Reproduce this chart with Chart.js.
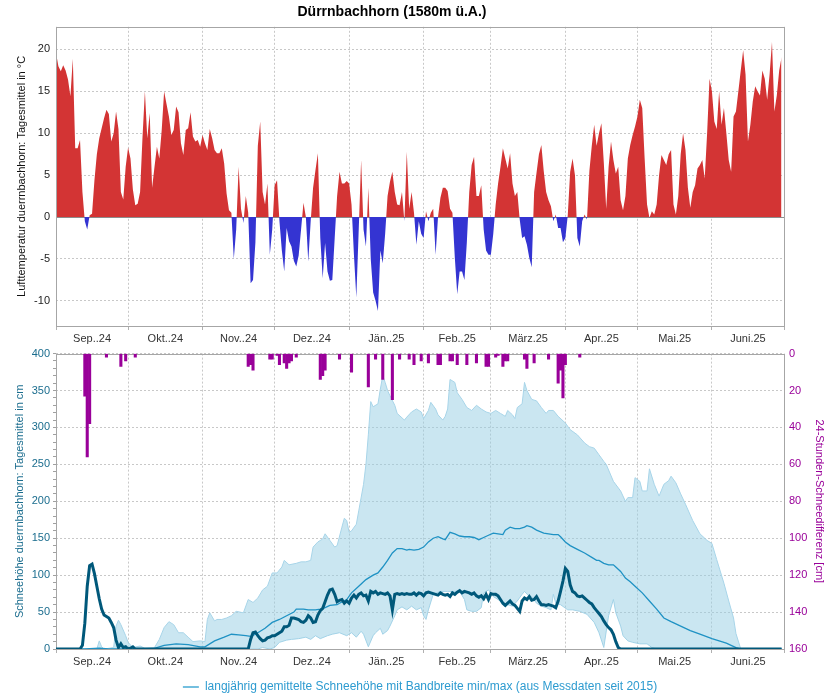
<!DOCTYPE html>
<html lang="de">
<head>
    <meta charset="UTF-8">
    <script src="https://cdn.jsdelivr.net/npm/chart.js@4.4.0/dist/chart.umd.min.js"></script>
    <title>Dürrnbachhorn</title>
    <style>
        body { margin: 0; background: #fff; }
        #wrap { position: relative; width: 840px; height: 700px; }
        canvas { display: block; position: absolute; left: 0; }
        #tempChart { top: 0; }
        #snowChart { top: 342px; }
    </style>
</head>
<body>
    <div id="wrap">
        <canvas id="tempChart" width="840" height="350"></canvas>
        <canvas id="snowChart" width="840" height="361"></canvas>
    </div>

    <script>
        // day 0 = 1. Sep 2024, month edges in days
        var monthEdges = [0, 30, 61, 91, 122, 153, 181, 212, 242, 273, 303];
        var monthLabels = ['Sep..24', 'Okt..24', 'Nov..24', 'Dez..24', 'Jän..25', 'Feb..25', 'März.25', 'Apr..25', 'Mai.25', 'Juni.25'];

        // Lufttemperatur Tagesmittel (°C), one value per day
        var temps = [
            19.6, 18.0, 17.4, 18.1, 17.5, 16.4, 14.4, 18.9, 8.2, 8.2, 9.2, 3.0, -0.5, -1.5, 0.2, 0.4, 4.4, 7.5, 9.4, 10.6, 11.8, 12.8, 12.3, 9.0, 10.0, 12.6, 10.5, 3.0, 2.1, 6.0,
            8.3, 7.0, 3.3, 1.4, 1.6, 3.0, 9.5, 15.0, 9.4, 12.4, 3.5, 6.0, 8.4, 7.0, 10.4, 15.0, 13.5, 12.0, 9.8, 10.4, 13.2, 12.5, 8.8, 7.4, 10.4, 10.6, 12.5, 9.6, 9.0, 9.2, 8.4,
            9.8, 8.8, 8.0, 10.5, 9.4, 8.0, 7.6, 7.6, 8.2, 6.4, 2.8, 0.8, 0.5, -5.0, -1.5, 6.0, 1.0, -0.7, 2.5, 0.5, -7.9, -7.5, -3.0, 8.5, 11.4, 3.0, 1.5, 4.0, -4.5, -1.5,
            3.8, 4.4, -0.5, -4.0, -6.5, -1.3, -2.9, -3.5, -5.2, -5.9, -4.6, -1.5, 1.7, 0.0, -5.3, -0.5, 3.5, 5.6, 7.6, -2.5, -7.3, -3.1, -6.5, -7.6, -7.5, -2.5, 2.5, 5.4, 4.0, 4.0, 4.3,
            4.0, 1.5, -4.5, -9.6, -1.5, 6.8, -1.5, -3.5, 3.5, -5.0, -9.0, -10.0, -11.2, -4.0, -5.5, -2.0, 2.5, 4.2, 5.4, 3.0, 1.5, 1.4, 3.0, -0.5, 7.8, 1.0, 3.0, 0.5, -3.3, -0.5, -2.0,
            -2.5, 0.7, -0.5, 0.5, 1.0, -4.5, 0.0, 2.3, 3.5, 3.5, 3.1, 1.0, 0.5, -4.9, -9.2, -6.5, -6.5, -7.5, -3.0, 3.0, 6.2, 7.2, 2.5, 2.5, 3.8, -1.5, -4.0, -4.5,
            -4.5, -2.0, 1.5, 4.0, 6.0, 8.2, 7.0, 5.8, 7.6, 4.0, 2.5, 3.0, -0.3, -2.5, -2.3, -3.3, -4.9, -6.0, 3.0, 5.3, 7.5, 8.6, 5.5, 3.0, 2.0, 1.3, -0.5, 0.3, -1.3, -1.3, -3.0,
            -2.5, 0.2, 5.4, 7.0, 5.0, -2.5, -3.5, -0.5, 0.3, -0.3, 5.5, 8.5, 11.0, 8.5, 10.0, 11.2, 6.5, 1.0, 6.0, 9.0, 6.8, 5.2, 6.0, 2.0, 0.8, 2.5, 7.0, 8.6, 9.8, 10.8,
            12.0, 14.0, 13.0, 7.0, 1.5, -0.1, 0.7, 0.3, 1.5, 5.0, 7.4, 6.8, 6.2, 7.5, 8.0, 1.5, 0.3, 2.5, 7.5, 10.0, 8.0, 3.5, 1.1, 3.0, 3.8, 5.8, 6.2, 6.8, 4.6, 10.0, 16.5,
            15.0, 11.4, 10.5, 15.0, 11.0, 13.0, 10.0, 6.8, 5.4, 12.0, 12.6, 15.0, 17.5, 19.9, 17.0, 9.0, 11.0, 13.8, 15.6, 15.0, 14.5, 17.5, 16.5, 14.0, 17.0, 20.9, 12.6, 14.5, 17.5, 19.1
        ];

        // Schneehöhe Tagesmittel (cm), one value per day
        var snow = [
            0, 0, 0, 0, 0, 0, 0, 0, 0, 0, 0, 5, 35, 85, 113, 115, 102, 85, 68, 54, 46, 44, 42, 36, 29, 12, 2, 7, 2, 3,
            0, 1, 3, 0, 0, 0, 0, 0, 0, 0, 0, 0, 0, 0, 0, 0, 0, 0, 0, 0, 0, 0, 0, 0, 0, 0, 0, 0, 0, 0, 0,
            0, 0, 0, 0, 0, 0, 0, 0, 0, 0, 0, 0, 0, 0, 0, 0, 0, 0, 0, 0, 13, 22, 23, 18, 14, 11, 12, 15, 16, 18,
            18, 20, 22, 24, 30, 30, 32, 42, 42, 41, 40, 37, 36, 39, 45, 42, 36, 37, 46, 52, 55, 64, 73, 80, 81, 74, 64, 66, 67, 62, 65,
            62, 69, 73, 69, 74, 76, 72, 73, 65, 78, 76, 78, 74, 76, 75, 74, 76, 72, 53, 74, 75, 74, 75, 74, 75, 74, 74, 76, 73, 76, 75,
            72, 76, 77, 76, 75, 74, 73, 76, 74, 73, 74, 71, 76, 74, 77, 79, 76, 78, 77, 76, 74, 76, 72, 70, 72, 68, 74, 67,
            75, 74, 74, 72, 67, 62, 59, 62, 65, 61, 59, 55, 51, 65, 69, 67, 71, 66, 67, 71, 65, 60, 60, 59, 60, 59, 58, 56, 65, 78, 92,
            109, 105, 87, 78, 76, 72, 71, 72, 69, 66, 63, 61, 56, 52, 48, 44, 38, 33, 29, 26, 20, 10, 2, 0, 0, 0, 0, 0, 0, 0,
            0, 0, 0, 0, 0, 0, 0, 0, 0, 0, 0, 0, 0, 0, 0, 0, 0, 0, 0, 0, 0, 0, 0, 0, 0, 0, 0, 0, 0, 0, 0,
            0, 0, 0, 0, 0, 0, 0, 0, 0, 0, 0, 0, 0, 0, 0, 0, 0, 0, 0, 0, 0, 0, 0, 0, 0, 0, 0, 0, 0, 0
        ];

        // langjähriges Mittel (day, cm)
        var meanDays = [0, 12, 18, 22, 40, 45, 50, 55, 60, 62, 66, 70, 73, 76, 79, 81, 83, 87, 90, 93, 96, 99, 100, 103, 105, 108, 110, 112, 114, 117, 118, 121, 123, 126, 129, 132, 134, 136, 138, 140, 142, 144, 146, 147, 149, 151, 153, 155, 157, 159, 161, 162, 164, 166, 168, 170, 172, 174, 176, 178, 180, 182, 184, 186, 187, 189, 191, 193, 195, 196, 198, 200, 203, 205, 207, 209, 210, 212, 214, 217, 220, 223, 225, 226, 228, 230, 232, 233, 235, 237, 239, 241, 244, 247, 250, 253, 256, 260, 264, 268, 273, 279, 283, 285, 302];
        var meanVals = [0, 0, 1, 0, 0, 5, 7, 6, 3, 3, 11, 16, 20, 19, 18, 17, 20, 28, 36, 40, 45, 50, 54, 54, 53, 53, 54, 56, 59, 60, 62, 67, 76, 85, 94, 100, 103, 111, 120, 130, 136, 136, 134, 135, 134, 135, 138, 145, 150, 152, 149, 148, 158, 156, 153, 152, 152, 151, 148, 151, 154, 157, 156, 155, 161, 165, 163, 163, 165, 167, 165, 161, 157, 156, 155, 155, 152, 145, 140, 135, 130, 124, 120, 120, 116, 114, 114, 111, 105, 96, 91, 85, 76, 65, 54, 42, 37, 31, 25, 20, 14, 8, 2, 0, 0];

        // Bandbreite max (day, cm)
        var bandMaxDays = [0, 17, 18, 19, 20, 24, 25, 26, 27, 29, 30, 32, 35, 37, 41, 43, 45, 47, 49, 51, 53, 55, 57, 60, 62, 63, 64, 66, 67, 69, 71, 73, 75, 78, 80, 82, 84, 86, 88, 90, 92, 94, 95, 97, 100, 102, 104, 106, 107, 109, 111, 112, 114, 116, 117, 119, 120, 121, 122, 123, 125, 126, 128, 129, 130, 131, 132, 134, 135, 136, 137, 138, 139, 141, 142, 145, 146, 148, 150, 152, 153, 155, 156, 158, 159, 161, 162, 163, 164, 166, 167, 169, 171, 173, 175, 177, 179, 181, 183, 185, 187, 188, 190, 191, 192, 194, 195, 196, 198, 200, 202, 204, 205, 207, 209, 212, 214, 217, 220, 222, 224, 226, 228, 229, 232, 235, 237, 238, 240, 241, 243, 244, 246, 247, 249, 251, 253, 255, 256, 258, 260, 262, 265, 268, 271, 273, 275, 278, 280, 282, 283, 285, 302];
        var bandMaxVals = [0, 0, 11, 3, 0, 2, 31, 39, 33, 18, 9, 2, 4, 1, 2, 13, 29, 37, 33, 22, 22, 16, 10, 11, 10, 40, 49, 38, 40, 40, 42, 45, 51, 49, 67, 63, 69, 80, 85, 103, 103, 111, 120, 114, 116, 118, 118, 120, 138, 145, 149, 156, 147, 138, 140, 165, 177, 174, 158, 160, 169, 187, 223, 250, 290, 335, 328, 332, 352, 370, 361, 350, 343, 330, 319, 310, 314, 321, 325, 321, 312, 323, 334, 325, 317, 310, 315, 325, 365, 361, 347, 338, 327, 323, 330, 325, 321, 319, 323, 319, 315, 323, 317, 312, 327, 332, 361, 350, 338, 336, 327, 319, 323, 323, 315, 306, 297, 290, 279, 274, 272, 263, 254, 250, 227, 214, 200, 205, 205, 232, 227, 214, 214, 244, 223, 207, 223, 228, 234, 225, 210, 196, 174, 156, 147, 143, 121, 89, 65, 42, 21, 0, 0];

        // Bandbreite min (day, cm)
        var bandMinDays = [0, 84, 86, 89, 91, 93, 96, 98, 101, 104, 106, 108, 110, 113, 115, 118, 121, 123, 125, 127, 128, 130, 132, 133, 135, 136, 138, 139, 141, 142, 144, 146, 148, 150, 152, 153, 154, 155, 157, 160, 163, 166, 168, 170, 171, 173, 175, 177, 178, 180, 182, 184, 186, 188, 190, 192, 194, 195, 197, 198, 200, 202, 204, 206, 207, 208, 210, 213, 215, 218, 221, 224, 226, 228, 230, 232, 233, 235, 236, 238, 240, 243, 246, 248, 250, 302];
        var bandMinVals = [0, 0, 2, 0, 2, 9, 12, 13, 14, 16, 13, 18, 14, 18, 20, 22, 18, 22, 16, 24, 20, 3, 18, 22, 28, 20, 25, 31, 45, 53, 57, 53, 58, 53, 56, 45, 40, 53, 74, 78, 78, 78, 78, 67, 53, 51, 51, 56, 76, 80, 71, 67, 62, 60, 58, 65, 74, 78, 71, 71, 62, 58, 56, 53, 74, 62, 60, 53, 53, 51, 47, 36, 22, 2, 45, 67, 49, 31, 18, 11, 9, 7, 7, 2, 0, 0];

        // 24-Stunden-Schneedifferenz (day, cm)
        var newSnowDays = [12, 13, 14, 21, 27, 29, 33, 80, 81, 82, 89, 90, 92, 93, 95, 96, 97, 98, 100, 110, 111, 112, 118, 123, 130, 133, 136, 140, 143, 147, 149, 152, 155, 159, 160, 164, 165, 167, 171, 175, 179, 180, 183, 184, 186, 187, 188, 195, 196, 199, 205, 209, 210, 211, 212, 218];
        var newSnowVals = [23, 56, 38, 2, 7, 4, 2, 7, 6, 9, 3, 3, 1, 6, 5, 8, 5, 4, 2, 14, 12, 9, 3, 10, 18, 3, 14, 25, 3, 3, 6, 4, 5, 6, 6, 4, 4, 6, 6, 5, 7, 7, 2, 1, 7, 4, 4, 3, 8, 5, 3, 16, 9, 24, 6, 2];

        Chart.defaults.font.family = "'Liberation Sans', Arial, sans-serif";
        Chart.defaults.font.size = 11;
        Chart.defaults.animation = false;

        var gridGrey = '#c8c8c8';
        var monthMids = [];
        for (var i = 0; i < monthLabels.length; i++) {
            monthMids.push((monthEdges[i] + monthEdges[i + 1]) / 2);
        }

        function pairs(xs, ys) {
            return xs.map(function (x, i) { return { x: x, y: ys[i] }; });
        }

        // x axis: grid at month edges, labels in the middle of each month
        function monthAxis(height) {
            return {
                type: 'linear', min: 0, max: 303,
                offset: false,
                afterBuildTicks: function (scale) {
                    var t = monthEdges.concat(monthMids).sort(function (a, b) { return a - b; });
                    scale.ticks = t.map(function (v) { return { value: v }; });
                },
                ticks: {
                    autoSkip: false, maxRotation: 0, padding: 2, color: '#333',
                    callback: function (v) {
                        var k = monthMids.indexOf(v);
                        return k >= 0 ? monthLabels[k] : '';
                    }
                },
                grid: {
                    offset: false,
                    color: function (c) { return c.tick && monthEdges.indexOf(c.tick.value) >= 0 ? gridGrey : 'rgba(0,0,0,0)'; },
                    tickColor: function (c) { return c.tick && monthEdges.indexOf(c.tick.value) >= 0 ? '#b0b0b0' : 'rgba(0,0,0,0)'; },
                    tickLength: 4
                },
                border: { display: false, dash: [2, 2] },
                afterFit: function (scale) { scale.height = height; }
            };
        }

        function framePlugin(when) {
            var p = { id: 'frame' + when };
            p[when] = function (chart) {
                var a = chart.chartArea, ctx = chart.ctx;
                ctx.save();
                ctx.strokeStyle = '#a6a6a6';
                ctx.lineWidth = 1;
                ctx.strokeRect(Math.round(a.left) + 0.5, Math.round(a.top) + 0.5, Math.round(a.right - a.left), Math.round(a.bottom - a.top));
                ctx.restore();
            };
            return p;
        }

        // ---------- Temperatur ----------
        new Chart(document.getElementById('tempChart'), {
            type: 'line',
            data: {
                datasets: [{
                    label: 'Lufttemperatur',
                    data: temps.map(function (v, d) { return { x: d, y: v }; }),
                    borderWidth: 0,
                    borderColor: 'rgba(0,0,0,0)',
                    pointRadius: 0,
                    tension: 0,
                    fill: { target: 'origin', above: '#d33434', below: '#3434d2' }
                }]
            },
            options: {
                responsive: false,
                layout: { padding: { left: 0, right: 56, top: 0, bottom: 0 } },
                plugins: {
                    legend: { display: false },
                    tooltip: { enabled: false },
                    title: {
                        display: true,
                        text: 'Dürrnbachhorn (1580m ü.A.)',
                        color: '#000',
                        font: { size: 14, weight: 'bold' },
                        padding: { top: 4, bottom: 6 }
                    }
                },
                scales: {
                    x: monthAxis(24),
                    y: {
                        min: -13, max: 22.7,
                        afterBuildTicks: function (scale) {
                            scale.ticks = [-10, -5, 0, 5, 10, 15, 20].map(function (v) { return { value: v }; });
                        },
                        ticks: { color: '#222', padding: 6 },
                        grid: {
                            drawTicks: false,
                            color: function (c) { return c.tick && c.tick.value === 0 ? '#8c8c8c' : gridGrey; }
                        },
                        border: {
                            display: false,
                            dash: function (c) { return c.tick && c.tick.value === 0 ? [] : [2, 2]; }
                        },
                        title: {
                            display: true,
                            text: 'Lufttemperatur duerrnbachhorn: Tagesmittel in °C',
                            color: '#111',
                            padding: { top: 15, bottom: 0 }
                        },
                        afterFit: function (scale) { scale.width = 56; }
                    }
                }
            },
            plugins: [framePlugin('afterDatasetsDraw')]
        });

        // ---------- Schneehöhe ----------
        var teal = '#1b6d8e';
        var purple = '#990099';
        var legendText = 'langjährig gemittelte Schneehöhe mit Bandbreite min/max (aus Messdaten seit 2015)';

        new Chart(document.getElementById('snowChart'), {
            type: 'line',
            data: {
                datasets: [{
                    label: 'Schneehöhe',
                    data: snow.map(function (v, d) { return { x: d, y: v }; }),
                    borderColor: '#00587a',
                    borderWidth: 3,
                    pointRadius: 0,
                    fill: false,
                    order: 1
                }, {
                    label: legendText,
                    data: pairs(meanDays, meanVals),
                    borderColor: '#1f92c4',
                    borderWidth: 1.3,
                    pointRadius: 0,
                    fill: false,
                    order: 2
                }, {
                    label: 'max',
                    data: pairs(bandMaxDays, bandMaxVals),
                    borderColor: '#a8d5e9',
                    borderWidth: 1,
                    backgroundColor: 'rgba(150,205,228,0.5)',
                    pointRadius: 0,
                    fill: '+1',
                    order: 3
                }, {
                    label: 'min',
                    data: pairs(bandMinDays, bandMinVals),
                    borderColor: '#a8d5e9',
                    borderWidth: 1,
                    pointRadius: 0,
                    fill: false,
                    order: 3
                }, {
                    type: 'bar',
                    label: 'Neuschnee',
                    data: pairs(newSnowDays, newSnowVals),
                    yAxisID: 'y2',
                    backgroundColor: purple,
                    barPercentage: 1,
                    categoryPercentage: 1,
                    grouped: false,
                    order: 0
                }]
            },
            options: {
                responsive: false,
                layout: { padding: { left: 0, right: 0, top: 8, bottom: 0 } },
                plugins: {
                    tooltip: { enabled: false },
                    legend: {
                        position: 'bottom',
                        labels: {
                            padding: 4,
                            color: '#2d9bd0',
                            font: { size: 12 },
                            usePointStyle: true,
                            pointStyleWidth: 16,
                            generateLabels: function () {
                                return [{
                                    text: legendText, datasetIndex: 1, hidden: false,
                                    strokeStyle: '#74bfdf', fillStyle: '#74bfdf', lineWidth: 2,
                                    pointStyle: 'line', fontColor: '#2d9bd0'
                                }];
                            }
                        }
                    }
                },
                scales: {
                    x: monthAxis(28),
                    y: {
                        min: 0, max: 400,
                        afterBuildTicks: function (scale) {
                            var t = [];
                            for (var v = 0; v <= 400; v += 10) t.push({ value: v });
                            scale.ticks = t;
                        },
                        ticks: {
                            color: teal, padding: 3, autoSkip: false,
                            callback: function (v) { return v % 50 === 0 ? v : ''; }
                        },
                        grid: {
                            tickLength: 3,
                            color: function (c) { return c.tick && c.tick.value % 50 === 0 ? gridGrey : 'rgba(0,0,0,0)'; },
                            tickColor: '#a0a0a0'
                        },
                        border: { display: false, dash: [2, 2] },
                        title: {
                            display: true,
                            text: 'Schneehöhe duerrnbachhorn: Tagesmittel in cm',
                            color: teal,
                            padding: { top: 13, bottom: 0 }
                        },
                        afterFit: function (scale) { scale.width = 56; }
                    },
                    y2: {
                        position: 'right',
                        reverse: true,
                        min: 0, max: 160,
                        ticks: { stepSize: 20, color: purple, padding: 5 },
                        grid: { drawOnChartArea: false, drawTicks: false },
                        border: { display: false },
                        title: {
                            display: true,
                            text: '24-Stunden-Schneedifferenz [cm]',
                            color: purple,
                            padding: { top: 14, bottom: 0 }
                        },
                        afterFit: function (scale) { scale.width = 56; }
                    }
                }
            },
            plugins: [framePlugin('beforeDatasetsDraw')]
        });
    </script>
</body>
</html>
